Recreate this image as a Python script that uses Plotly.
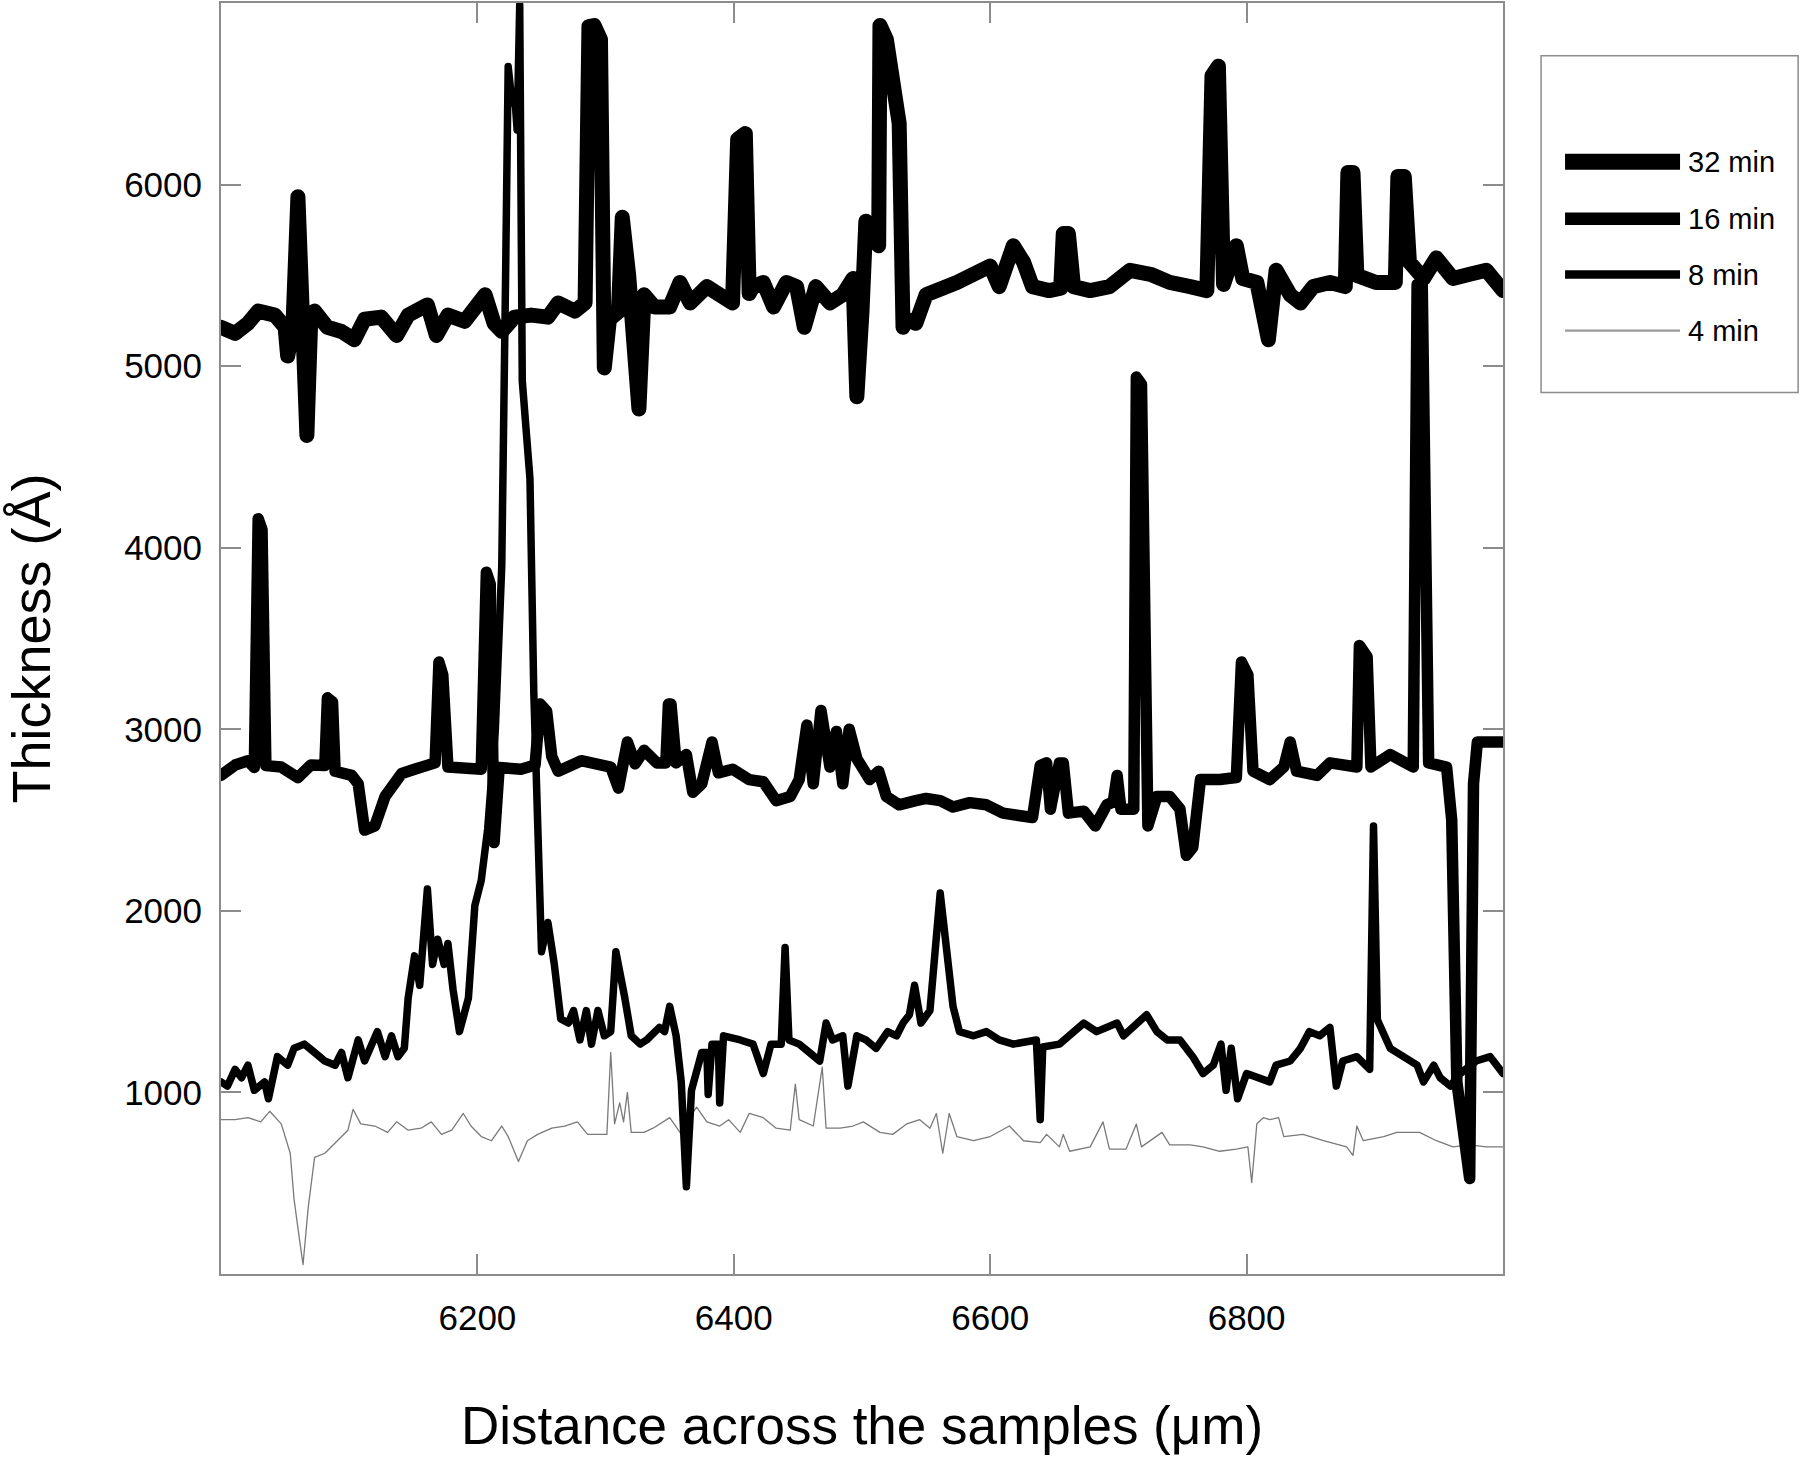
import plotly.graph_objects as go

# distance across the samples (um) and thickness (A)
x_32 = [6000, 6011, 6021, 6029, 6042, 6050, 6052, 6056, 6060, 6063, 6067, 6070, 6073, 6083, 6094,
        6104, 6112, 6125, 6137, 6146, 6161, 6168, 6177, 6190, 6206, 6213, 6219, 6229, 6242, 6255,
        6263, 6276, 6284, 6287, 6291, 6296, 6299, 6303, 6310, 6313, 6318, 6326, 6330, 6338, 6350,
        6358, 6366, 6379, 6392, 6399, 6403, 6409, 6412, 6415, 6423, 6431, 6441, 6449, 6455, 6464,
        6475, 6485, 6493, 6496, 6500, 6503, 6509, 6513, 6514, 6519, 6529, 6532, 6535, 6542, 6550,
        6561, 6574, 6587, 6600, 6607, 6618, 6626, 6633, 6646, 6655, 6657, 6661, 6665, 6678, 6693,
        6709, 6725, 6740, 6756, 6769, 6773, 6778, 6782, 6792, 6797, 6808, 6817, 6823, 6834, 6842,
        6852, 6865, 6877, 6879, 6883, 6886, 6901, 6916, 6918, 6923, 6927, 6938, 6948, 6961, 6974,
        6987, 7000]
y_32 = [5214, 5180, 5236, 5303, 5281, 5214, 5056, 5200, 5933, 5300, 4618, 5258, 5303, 5214, 5191,
        5146, 5258, 5270, 5169, 5281, 5337, 5169, 5281, 5247, 5393, 5236, 5191, 5270, 5281, 5270,
        5348, 5303, 5348, 6870, 6876, 6800, 4990, 5258, 5300, 5820, 5500, 4764, 5393, 5326, 5326,
        5461, 5348, 5438, 5371, 5348, 6250, 6281, 5400, 5438, 5461, 5326, 5461, 5438, 5214, 5438,
        5348, 5393, 5483, 4831, 5300, 5798, 5700, 5663, 6876, 6800, 6337, 5214, 5258, 5236, 5393,
        5416, 5461, 5506, 5551, 5438, 5663, 5573, 5438, 5416, 5430, 5730, 5730, 5438, 5416, 5438,
        5528, 5506, 5461, 5438, 5416, 6600, 6652, 5450, 5663, 5483, 5461, 5146, 5528, 5393, 5348,
        5438, 5461, 5438, 6067, 6067, 5500, 5461, 5461, 6045, 6045, 5573, 5483, 5596, 5483, 5506,
        5528, 5416]

x_16 = [6000, 6011, 6021, 6026, 6029, 6032, 6035, 6047, 6060, 6070, 6081, 6083, 6087, 6089, 6102,
        6107, 6112, 6120, 6128, 6133, 6141, 6151, 6167, 6170, 6173, 6177, 6190, 6203, 6207, 6210,
        6213, 6217, 6234, 6245, 6249, 6254, 6258, 6263, 6281, 6294, 6304, 6310, 6317, 6323, 6330,
        6340, 6347, 6349, 6351, 6355, 6363, 6368, 6375, 6383, 6388, 6399, 6412, 6423, 6433, 6444,
        6451, 6457, 6462, 6468, 6475, 6480, 6485, 6490, 6496, 6506, 6513, 6519, 6529, 6542, 6550,
        6561, 6571, 6584, 6597, 6610, 6623, 6633, 6639, 6644, 6647, 6654, 6657, 6661, 6673, 6682,
        6691, 6696, 6699, 6702, 6712, 6714, 6718, 6723, 6730, 6740, 6748, 6753, 6758, 6764, 6779,
        6792, 6796, 6801, 6805, 6818, 6829, 6834, 6839, 6855, 6865, 6886, 6888, 6894, 6897, 6912,
        6930, 6933, 6937, 6942, 6956, 6960, 6964, 6974, 6977, 6980, 7000]
y_16 = [2746, 2803, 2827, 2790, 4160, 4100, 2800, 2792, 2734, 2803, 2800, 3173, 3150, 2769, 2746,
        2700, 2445, 2468, 2630, 2676, 2757, 2780, 2815, 3370, 3300, 2792, 2780, 2780, 3865, 3800,
        2376, 2790, 2780, 2803, 3139, 3100, 2850, 2769, 2827, 2815, 2792, 2676, 2930, 2810, 2884,
        2815, 2815, 3139, 3139, 2815, 2861, 2653, 2700, 2930, 2760, 2780, 2723, 2711, 2607, 2630,
        2723, 3023, 2700, 3104, 2792, 2988, 2700, 3000, 2838, 2723, 2769, 2630, 2584, 2607, 2619,
        2607, 2572, 2596, 2584, 2538, 2526, 2514, 2800, 2815, 2560, 2815, 2815, 2538, 2549, 2468,
        2584, 2600, 2746, 2560, 2560, 4940, 4900, 2468, 2630, 2630, 2561, 2306, 2350, 2723, 2723,
        2734, 3370, 3300, 2769, 2723, 2792, 2930, 2769, 2746, 2815, 2792, 3462, 3400, 2792, 2861,
        2792, 5450, 5450, 2815, 2792, 2500, 1058, 526, 2700, 2930, 2930]

x_8 = [6000, 6005, 6011, 6016, 6021, 6026, 6034, 6037, 6044, 6052, 6057, 6065, 6073, 6081, 6089,
       6094, 6099, 6107, 6112, 6122, 6128, 6133, 6138, 6143, 6146, 6151, 6155, 6159, 6161, 6165,
       6169, 6174, 6177, 6181, 6186, 6193, 6198, 6203, 6208, 6214, 6219, 6222, 6224, 6227, 6229,
       6231, 6233, 6235, 6238, 6241, 6244, 6248, 6250, 6255, 6260, 6265, 6271, 6275, 6280, 6285,
       6289, 6294, 6299, 6304, 6308, 6315, 6320, 6327, 6332, 6342, 6346, 6350, 6355, 6359, 6363,
       6367, 6371, 6375, 6379, 6380, 6383, 6388, 6389, 6392, 6405, 6415, 6423, 6429, 6437, 6440,
       6443, 6451, 6459, 6467, 6472, 6477, 6485, 6489, 6496, 6503, 6511, 6520, 6527, 6532, 6537,
       6541, 6546, 6553, 6561, 6566, 6571, 6576, 6587, 6597, 6607, 6618, 6636, 6639, 6641, 6654,
       6662, 6673, 6683, 6691, 6699, 6704, 6712, 6722, 6730, 6738, 6748, 6758, 6766, 6774, 6780,
       6784, 6788, 6793, 6800, 6808, 6818, 6823, 6834, 6842, 6849, 6857, 6865, 6870, 6875, 6886,
       6896, 6899, 6902, 6912, 6922, 6933, 6938, 6946, 6951, 6959, 6966, 6979, 6990, 7000]
y_8 = [1058, 1035, 1127, 1081, 1150, 1012, 1058, 965, 1197, 1150, 1243, 1266, 1220, 1173, 1150,
       1220, 1081, 1289, 1173, 1335, 1197, 1312, 1197, 1243, 1520, 1752, 1590, 1983, 2121, 1705,
       1844, 1705, 1820, 1567, 1335, 1520, 2029, 2168, 2450, 3000, 3900, 5500, 6650, 6450, 6500,
       6300, 6990, 4920, 4600, 4380, 3200, 1950, 1775, 1936, 1705, 1405, 1382, 1451, 1289, 1451,
       1266, 1451, 1312, 1335, 1775, 1520, 1312, 1266, 1289, 1358, 1335, 1474, 1312, 1058, 480,
       1012, 1104, 1220, 1220, 989, 1266, 1266, 942, 1312, 1289, 1266, 1104, 1266, 1266, 1798,
       1289, 1266, 1220, 1173, 1382, 1289, 1312, 1035, 1312, 1289, 1243, 1335, 1312, 1382, 1428,
       1590, 1382, 1451, 2098, 1752, 1474, 1335, 1312, 1335, 1289, 1266, 1289, 850, 1250, 1266,
       1312, 1382, 1335, 1358, 1382, 1312, 1358, 1428, 1335, 1289, 1289, 1197, 1104, 1150, 1266,
       1012, 1243, 965, 1104, 1081, 1058, 1150, 1173, 1243, 1335, 1312, 1358, 1035, 1173, 1197,
       1127, 2468, 1400, 1243, 1197, 1150, 1058, 1150, 1081, 1035, 1100, 1173, 1197, 1104]

x_4 = [6000, 6011, 6021, 6031, 6038, 6047, 6054, 6057, 6061, 6064, 6068, 6073, 6081, 6091, 6099,
       6103, 6109, 6120, 6130, 6137, 6146, 6156, 6164, 6172, 6180, 6189, 6195, 6203, 6211, 6219,
       6224, 6232, 6239, 6247, 6258, 6268, 6278, 6286, 6301, 6304, 6307, 6311, 6314, 6317, 6320,
       6330, 6337, 6350, 6358, 6371, 6379, 6389, 6396, 6405, 6412, 6423, 6433, 6444, 6448, 6451,
       6462, 6469, 6472, 6483, 6493, 6501, 6514, 6524, 6535, 6545, 6553, 6558, 6563, 6568, 6574,
       6587, 6600, 6615, 6626, 6639, 6644, 6654, 6657, 6662, 6678, 6688, 6693, 6706, 6714, 6718,
       6734, 6740, 6756, 6766, 6779, 6792, 6801, 6804, 6808, 6813, 6818, 6825, 6829, 6844, 6860,
       6878, 6883, 6886, 6891, 6907, 6917, 6935, 6948, 6961, 6974, 6987, 7000]
y_4 = [850, 850, 861, 838, 896, 827, 665, 411, 202, 52, 364, 642, 665, 734, 792,
       907, 827, 815, 780, 838, 792, 803, 838, 769, 792, 884, 815, 757, 734, 815,
       757, 619, 734, 769, 803, 815, 838, 769, 769, 1220, 827, 942, 838, 1000, 780,
       780, 803, 861, 780, 919, 838, 815, 850, 780, 884, 861, 803, 792, 1046, 850,
       815, 1139, 803, 803, 815, 838, 780, 769, 827, 850, 803, 884, 665, 884, 757,
       734, 757, 815, 734, 723, 769, 700, 769, 676, 700, 838, 688, 688, 826, 700,
       780, 711, 711, 700, 676, 688, 700, 503, 827, 861, 850, 861, 757, 769, 734,
       700, 653, 815, 734, 757, 780, 780, 734, 700, 711, 700, 700]

names = ["32 min", "16 min", "8 min", "4 min"]
series_x = [x_32, x_16, x_8, x_4]
series_y = [y_32, y_16, y_8, y_4]
line_widths = [15, 11.5, 7.5, 1.3]
line_colors = ["black", "black", "black", "#7a7a7a"]
legend_colors = ["black", "black", "black", "#9a9a9a"]

x_ticks = [6200, 6400, 6600, 6800]
y_ticks = [1000, 2000, 3000, 4000, 5000, 6000]

fig = go.Figure()

# thin series first so the thick ones sit on top
for i in reversed(range(len(names))):
    fig.add_trace(go.Scatter(x=series_x[i], y=series_y[i], mode="lines", name=names[i],
                             line=dict(color=line_colors[i], width=line_widths[i]),
                             showlegend=False))

# legend box drawn by hand so the sample lines are long, as in the original
fig.add_shape(type="rect", xref="paper", yref="paper", x0=1.0297, x1=1.2302, y0=0.6936, y1=0.9584,
              line=dict(color="#8c8c8c", width=1.5), fillcolor="white")
legend_y = [0.8751, 0.8303, 0.7863, 0.7423]
for i, name in enumerate(names):
    fig.add_shape(type="line", xref="paper", yref="paper", x0=1.0484, x1=1.1381,
                  y0=legend_y[i], y1=legend_y[i],
                  line=dict(color=legend_colors[i], width=line_widths[i] + 1))
    fig.add_annotation(xref="paper", yref="paper", x=1.1424, y=legend_y[i], text=name,
                       showarrow=False, xanchor="left", yanchor="middle",
                       font=dict(family="Liberation Sans Narrow, Arial Narrow, Liberation Sans",
                                 size=29, color="black"))

axis_style = dict(showline=True, linecolor="#8c8c8c", linewidth=2, mirror="ticks",
                  ticks="inside", ticklen=20, tickwidth=1.5, tickcolor="#8c8c8c",
                  showgrid=False, zeroline=False,
                  tickfont=dict(family="Liberation Sans, Arial", size=35, color="black"))

fig.update_layout(
    width=1800, height=1461,
    paper_bgcolor="white", plot_bgcolor="white",
    margin=dict(l=221, r=297, t=1, b=187),
    font=dict(family="Liberation Sans, Arial", color="black"),
    xaxis=dict(range=[6000, 7000], tickvals=x_ticks, ticklabelstandoff=12,
               title=dict(text="Distance across the samples (μm)", standoff=71,
                          font=dict(size=53)), **axis_style),
    yaxis=dict(range=[0, 7000], tickvals=y_ticks, ticklabelstandoff=10,
               title=dict(text="Thickness (Å)", standoff=56, font=dict(size=54)), **axis_style),
)

# page sits flush at the window corner; rounded joins like the pen strokes of the original
page_js = ("document.body.style.margin='0';"
           "document.querySelectorAll('.scatterlayer .js-line').forEach(function(p){"
           "p.style.strokeLinejoin='round';p.style.strokeLinecap='round';});")

fig.write_html("out.html", post_script=page_js, config={"displayModeBar": False})
